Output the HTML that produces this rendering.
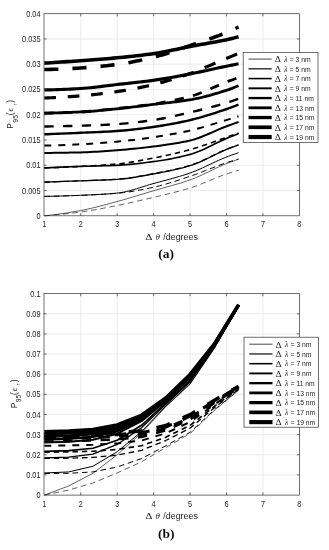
<!DOCTYPE html>
<html><head><meta charset="utf-8"><title>Figure</title>
<style>html,body{margin:0;padding:0;background:#fff}svg{display:block}</style></head>
<body>
<svg width="329" height="550" viewBox="0 0 329 550">
<rect width="329" height="550" fill="#fff"/>
<defs><filter id="soft" x="0" y="0" width="100%" height="100%" filterUnits="userSpaceOnUse"><feGaussianBlur stdDeviation="0.32"/></filter></defs>
<g filter="url(#soft)">
<line x1="80.74" y1="13.7" x2="80.74" y2="215.8" stroke="#e4e4e4" stroke-width="0.7"/>
<line x1="117.19" y1="13.7" x2="117.19" y2="215.8" stroke="#e4e4e4" stroke-width="0.7"/>
<line x1="153.63" y1="13.7" x2="153.63" y2="215.8" stroke="#e4e4e4" stroke-width="0.7"/>
<line x1="190.07" y1="13.7" x2="190.07" y2="215.8" stroke="#e4e4e4" stroke-width="0.7"/>
<line x1="226.51" y1="13.7" x2="226.51" y2="215.8" stroke="#e4e4e4" stroke-width="0.7"/>
<line x1="262.96" y1="13.7" x2="262.96" y2="215.8" stroke="#e4e4e4" stroke-width="0.7"/>
<line x1="44.0" y1="190.54" x2="299.4" y2="190.54" stroke="#e4e4e4" stroke-width="0.7"/>
<line x1="44.0" y1="165.28" x2="299.4" y2="165.28" stroke="#e4e4e4" stroke-width="0.7"/>
<line x1="44.0" y1="140.01" x2="299.4" y2="140.01" stroke="#e4e4e4" stroke-width="0.7"/>
<line x1="44.0" y1="114.75" x2="299.4" y2="114.75" stroke="#e4e4e4" stroke-width="0.7"/>
<line x1="44.0" y1="89.49" x2="299.4" y2="89.49" stroke="#e4e4e4" stroke-width="0.7"/>
<line x1="44.0" y1="64.22" x2="299.4" y2="64.22" stroke="#e4e4e4" stroke-width="0.7"/>
<line x1="44.0" y1="38.96" x2="299.4" y2="38.96" stroke="#e4e4e4" stroke-width="0.7"/>
<g fill="none" stroke="#000" stroke-linejoin="round">
<path d="M44.30,215.80 L47.59,215.47 L50.88,215.10 L54.18,214.70 L57.47,214.27 L60.76,213.81 L64.05,213.32 L67.35,212.81 L70.64,212.27 L73.93,211.71 L77.22,211.14 L80.51,210.54 L83.81,209.91 L87.10,209.23 L90.39,208.49 L93.68,207.71 L96.98,206.90 L100.27,206.06 L103.56,205.19 L106.85,204.31 L110.14,203.41 L113.44,202.52 L116.73,201.62 L120.02,200.72 L123.31,199.80 L126.61,198.85 L129.90,197.88 L133.19,196.89 L136.48,195.90 L139.77,194.89 L143.07,193.89 L146.36,192.89 L149.65,191.89 L152.94,190.90 L156.24,189.94 L159.53,189.00 L162.82,188.08 L166.11,187.17 L169.40,186.26 L172.70,185.34 L175.99,184.39 L179.28,183.42 L182.57,182.41 L185.87,181.34 L189.16,180.22 L192.45,179.02 L195.74,177.69 L199.03,176.26 L202.33,174.75 L205.62,173.19 L208.91,171.60 L212.20,170.01 L215.49,168.43 L218.79,166.90 L222.08,165.43 L225.37,164.05 L228.66,162.78 L231.96,161.57 L235.25,160.42 L238.54,159.30" stroke-width="0.62"/>
<path d="M44.30,196.40 L47.59,196.34 L50.88,196.28 L54.18,196.20 L57.47,196.11 L60.76,196.02 L64.05,195.92 L67.35,195.81 L70.64,195.69 L73.93,195.57 L77.22,195.44 L80.51,195.31 L83.81,195.18 L87.10,195.04 L90.39,194.89 L93.68,194.74 L96.98,194.57 L100.27,194.39 L103.56,194.19 L106.85,193.97 L110.14,193.72 L113.44,193.45 L116.73,193.14 L120.02,192.75 L123.31,192.20 L126.61,191.50 L129.90,190.68 L133.19,189.76 L136.48,188.78 L139.77,187.75 L143.07,186.70 L146.36,185.66 L149.65,184.65 L152.94,183.69 L156.24,182.79 L159.53,181.90 L162.82,181.02 L166.11,180.14 L169.40,179.25 L172.70,178.35 L175.99,177.42 L179.28,176.46 L182.57,175.46 L185.87,174.41 L189.16,173.32 L192.45,172.14 L195.74,170.84 L199.03,169.44 L202.33,167.97 L205.62,166.44 L208.91,164.89 L212.20,163.32 L215.49,161.77 L218.79,160.26 L222.08,158.81 L225.37,157.45 L228.66,156.18 L231.96,154.98 L235.25,153.82 L238.54,152.70" stroke-width="1.00"/>
<path d="M44.30,182.10 L47.59,181.99 L50.88,181.87 L54.18,181.76 L57.47,181.64 L60.76,181.52 L64.05,181.41 L67.35,181.29 L70.64,181.17 L73.93,181.05 L77.22,180.93 L80.51,180.81 L83.81,180.69 L87.10,180.58 L90.39,180.48 L93.68,180.38 L96.98,180.28 L100.27,180.17 L103.56,180.05 L106.85,179.92 L110.14,179.78 L113.44,179.61 L116.73,179.43 L120.02,179.19 L123.31,178.88 L126.61,178.50 L129.90,178.05 L133.19,177.55 L136.48,177.01 L139.77,176.44 L143.07,175.85 L146.36,175.24 L149.65,174.63 L152.94,174.02 L156.24,173.43 L159.53,172.82 L162.82,172.19 L166.11,171.54 L169.40,170.86 L172.70,170.15 L175.99,169.41 L179.28,168.62 L182.57,167.79 L185.87,166.91 L189.16,165.97 L192.45,164.94 L195.74,163.74 L199.03,162.39 L202.33,160.92 L205.62,159.37 L208.91,157.76 L212.20,156.13 L215.49,154.50 L218.79,152.91 L222.08,151.39 L225.37,149.97 L228.66,148.65 L231.96,147.40 L235.25,146.18 L238.54,145.00" stroke-width="1.32"/>
<path d="M44.30,167.90 L47.59,167.75 L50.88,167.60 L54.18,167.45 L57.47,167.31 L60.76,167.17 L64.05,167.03 L67.35,166.90 L70.64,166.77 L73.93,166.65 L77.22,166.53 L80.51,166.41 L83.81,166.30 L87.10,166.20 L90.39,166.12 L93.68,166.03 L96.98,165.95 L100.27,165.87 L103.56,165.78 L106.85,165.69 L110.14,165.58 L113.44,165.46 L116.73,165.32 L120.02,165.15 L123.31,164.94 L126.61,164.69 L129.90,164.40 L133.19,164.08 L136.48,163.73 L139.77,163.36 L143.07,162.97 L146.36,162.55 L149.65,162.13 L152.94,161.69 L156.24,161.24 L159.53,160.76 L162.82,160.24 L166.11,159.69 L169.40,159.09 L172.70,158.46 L175.99,157.79 L179.28,157.07 L182.57,156.31 L185.87,155.50 L189.16,154.65 L192.45,153.70 L195.74,152.58 L199.03,151.30 L202.33,149.89 L205.62,148.39 L208.91,146.82 L212.20,145.21 L215.49,143.60 L218.79,142.00 L222.08,140.45 L225.37,138.99 L228.66,137.61 L231.96,136.25 L235.25,134.92 L238.54,133.60" stroke-width="1.65"/>
<path d="M44.30,152.90 L47.59,152.89 L50.88,152.88 L54.18,152.85 L57.47,152.82 L60.76,152.78 L64.05,152.73 L67.35,152.67 L70.64,152.61 L73.93,152.55 L77.22,152.48 L80.51,152.41 L83.81,152.32 L87.10,152.20 L90.39,152.04 L93.68,151.87 L96.98,151.67 L100.27,151.46 L103.56,151.23 L106.85,150.99 L110.14,150.74 L113.44,150.49 L116.73,150.23 L120.02,149.98 L123.31,149.71 L126.61,149.42 L129.90,149.12 L133.19,148.80 L136.48,148.47 L139.77,148.12 L143.07,147.76 L146.36,147.38 L149.65,146.99 L152.94,146.59 L156.24,146.17 L159.53,145.74 L162.82,145.30 L166.11,144.84 L169.40,144.36 L172.70,143.85 L175.99,143.30 L179.28,142.72 L182.57,142.10 L185.87,141.43 L189.16,140.71 L192.45,139.90 L195.74,138.92 L199.03,137.78 L202.33,136.53 L205.62,135.18 L208.91,133.76 L212.20,132.31 L215.49,130.86 L218.79,129.42 L222.08,128.04 L225.37,126.73 L228.66,125.51 L231.96,124.32 L235.25,123.16 L238.54,122.00" stroke-width="2.00"/>
<path d="M44.30,134.30 L47.59,134.18 L50.88,134.05 L54.18,133.92 L57.47,133.79 L60.76,133.66 L64.05,133.52 L67.35,133.38 L70.64,133.24 L73.93,133.10 L77.22,132.96 L80.51,132.81 L83.81,132.66 L87.10,132.52 L90.39,132.38 L93.68,132.24 L96.98,132.10 L100.27,131.95 L103.56,131.79 L106.85,131.62 L110.14,131.44 L113.44,131.24 L116.73,131.03 L120.02,130.79 L123.31,130.52 L126.61,130.22 L129.90,129.89 L133.19,129.53 L136.48,129.15 L139.77,128.75 L143.07,128.33 L146.36,127.90 L149.65,127.45 L152.94,127.00 L156.24,126.53 L159.53,126.03 L162.82,125.50 L166.11,124.94 L169.40,124.36 L172.70,123.75 L175.99,123.12 L179.28,122.45 L182.57,121.76 L185.87,121.05 L189.16,120.31 L192.45,119.54 L195.74,118.71 L199.03,117.82 L202.33,116.89 L205.62,115.92 L208.91,114.91 L212.20,113.87 L215.49,112.80 L218.79,111.71 L222.08,110.60 L225.37,109.49 L228.66,108.35 L231.96,107.14 L235.25,105.89 L238.54,104.60" stroke-width="2.40"/>
<path d="M44.30,113.10 L47.59,113.07 L50.88,113.01 L54.18,112.94 L57.47,112.85 L60.76,112.75 L64.05,112.63 L67.35,112.50 L70.64,112.36 L73.93,112.22 L77.22,112.07 L80.51,111.91 L83.81,111.74 L87.10,111.54 L90.39,111.30 L93.68,111.05 L96.98,110.77 L100.27,110.47 L103.56,110.16 L106.85,109.84 L110.14,109.51 L113.44,109.18 L116.73,108.85 L120.02,108.51 L123.31,108.15 L126.61,107.78 L129.90,107.39 L133.19,106.98 L136.48,106.57 L139.77,106.16 L143.07,105.74 L146.36,105.31 L149.65,104.90 L152.94,104.48 L156.24,104.08 L159.53,103.70 L162.82,103.33 L166.11,102.96 L169.40,102.59 L172.70,102.21 L175.99,101.82 L179.28,101.40 L182.57,100.96 L185.87,100.48 L189.16,99.95 L192.45,99.38 L195.74,98.73 L199.03,98.02 L202.33,97.26 L205.62,96.44 L208.91,95.57 L212.20,94.65 L215.49,93.70 L218.79,92.72 L222.08,91.70 L225.37,90.66 L228.66,89.58 L231.96,88.36 L235.25,87.05 L238.54,85.70" stroke-width="2.80"/>
<path d="M44.30,89.90 L47.59,89.88 L50.88,89.82 L54.18,89.74 L57.47,89.64 L60.76,89.52 L64.05,89.38 L67.35,89.22 L70.64,89.06 L73.93,88.88 L77.22,88.70 L80.51,88.51 L83.81,88.30 L87.10,88.03 L90.39,87.72 L93.68,87.37 L96.98,86.99 L100.27,86.59 L103.56,86.18 L106.85,85.76 L110.14,85.34 L113.44,84.94 L116.73,84.55 L120.02,84.18 L123.31,83.83 L126.61,83.47 L129.90,83.12 L133.19,82.76 L136.48,82.40 L139.77,82.03 L143.07,81.65 L146.36,81.25 L149.65,80.84 L152.94,80.39 L156.24,79.93 L159.53,79.43 L162.82,78.90 L166.11,78.35 L169.40,77.78 L172.70,77.19 L175.99,76.58 L179.28,75.96 L182.57,75.34 L185.87,74.71 L189.16,74.08 L192.45,73.44 L195.74,72.78 L199.03,72.09 L202.33,71.40 L205.62,70.69 L208.91,69.97 L212.20,69.25 L215.49,68.54 L218.79,67.82 L222.08,67.12 L225.37,66.43 L228.66,65.76 L231.96,65.10 L235.25,64.45 L238.54,63.80" stroke-width="3.15"/>
<path d="M44.30,63.10 L47.59,62.90 L50.88,62.70 L54.18,62.50 L57.47,62.29 L60.76,62.08 L64.05,61.86 L67.35,61.64 L70.64,61.41 L73.93,61.18 L77.22,60.95 L80.51,60.72 L83.81,60.48 L87.10,60.24 L90.39,60.00 L93.68,59.75 L96.98,59.50 L100.27,59.25 L103.56,58.99 L106.85,58.72 L110.14,58.44 L113.44,58.14 L116.73,57.84 L120.02,57.53 L123.31,57.21 L126.61,56.88 L129.90,56.53 L133.19,56.18 L136.48,55.81 L139.77,55.42 L143.07,55.02 L146.36,54.60 L149.65,54.16 L152.94,53.70 L156.24,53.20 L159.53,52.65 L162.82,52.06 L166.11,51.43 L169.40,50.76 L172.70,50.08 L175.99,49.39 L179.28,48.69 L182.57,48.00 L185.87,47.33 L189.16,46.68 L192.45,46.05 L195.74,45.45 L199.03,44.85 L202.33,44.27 L205.62,43.69 L208.91,43.10 L212.20,42.51 L215.49,41.90 L218.79,41.27 L222.08,40.62 L225.37,39.94 L228.66,39.22 L231.96,38.45 L235.25,37.63 L238.54,36.80" stroke-width="3.55"/>
<path d="M44.30,215.80 L47.59,215.57 L50.88,215.30 L54.18,215.02 L57.47,214.71 L60.76,214.38 L64.05,214.03 L67.35,213.66 L70.64,213.27 L73.93,212.87 L77.22,212.46 L80.51,212.03 L83.81,211.58 L87.10,211.09 L90.39,210.56 L93.68,210.00 L96.98,209.42 L100.27,208.81 L103.56,208.19 L106.85,207.55 L110.14,206.90 L113.44,206.25 L116.73,205.59 L120.02,204.93 L123.31,204.24 L126.61,203.54 L129.90,202.82 L133.19,202.09 L136.48,201.34 L139.77,200.58 L143.07,199.81 L146.36,199.03 L149.65,198.25 L152.94,197.46 L156.24,196.68 L159.53,195.90 L162.82,195.13 L166.11,194.35 L169.40,193.55 L172.70,192.75 L175.99,191.92 L179.28,191.07 L182.57,190.18 L185.87,189.25 L189.16,188.28 L192.45,187.24 L195.74,186.10 L199.03,184.87 L202.33,183.58 L205.62,182.24 L208.91,180.87 L212.20,179.51 L215.49,178.15 L218.79,176.83 L222.08,175.57 L225.37,174.39 L228.66,173.29 L231.96,172.25 L235.25,171.26 L238.54,170.30" stroke-width="0.62" stroke-dasharray="5.7,3.7"/>
<path d="M44.30,196.40 L47.59,196.34 L50.88,196.26 L54.18,196.18 L57.47,196.10 L60.76,196.00 L64.05,195.90 L67.35,195.79 L70.64,195.68 L73.93,195.56 L77.22,195.44 L80.51,195.31 L83.81,195.18 L87.10,195.05 L90.39,194.91 L93.68,194.76 L96.98,194.60 L100.27,194.43 L103.56,194.25 L106.85,194.05 L110.14,193.83 L113.44,193.60 L116.73,193.34 L120.02,193.04 L123.31,192.67 L126.61,192.25 L129.90,191.77 L133.19,191.23 L136.48,190.66 L139.77,190.05 L143.07,189.40 L146.36,188.74 L149.65,188.05 L152.94,187.35 L156.24,186.62 L159.53,185.81 L162.82,184.94 L166.11,184.01 L169.40,183.04 L172.70,182.02 L175.99,180.97 L179.28,179.89 L182.57,178.80 L185.87,177.70 L189.16,176.60 L192.45,175.49 L195.74,174.32 L199.03,173.10 L202.33,171.84 L205.62,170.55 L208.91,169.26 L212.20,167.96 L215.49,166.69 L218.79,165.44 L222.08,164.23 L225.37,163.08 L228.66,162.00 L231.96,160.96 L235.25,159.97 L238.54,159.00" stroke-width="1.00" stroke-dasharray="5.7,3.7"/>
<path d="M44.30,182.10 L47.59,181.99 L50.88,181.89 L54.18,181.78 L57.47,181.66 L60.76,181.55 L64.05,181.43 L67.35,181.31 L70.64,181.19 L73.93,181.06 L77.22,180.94 L80.51,180.81 L83.81,180.68 L87.10,180.56 L90.39,180.45 L93.68,180.33 L96.98,180.21 L100.27,180.08 L103.56,179.94 L106.85,179.79 L110.14,179.63 L113.44,179.44 L116.73,179.23 L120.02,178.98 L123.31,178.65 L126.61,178.25 L129.90,177.79 L133.19,177.28 L136.48,176.74 L139.77,176.16 L143.07,175.56 L146.36,174.95 L149.65,174.34 L152.94,173.73 L156.24,173.12 L159.53,172.51 L162.82,171.88 L166.11,171.23 L169.40,170.55 L172.70,169.84 L175.99,169.10 L179.28,168.31 L182.57,167.49 L185.87,166.61 L189.16,165.67 L192.45,164.64 L195.74,163.44 L199.03,162.10 L202.33,160.65 L205.62,159.11 L208.91,157.51 L212.20,155.89 L215.49,154.28 L218.79,152.70 L222.08,151.18 L225.37,149.76 L228.66,148.45 L231.96,147.20 L235.25,145.99 L238.54,144.80" stroke-width="1.32" stroke-dasharray="5.7,3.7"/>
<path d="M44.30,167.90 L47.59,167.80 L50.88,167.69 L54.18,167.58 L57.47,167.45 L60.76,167.32 L64.05,167.18 L67.35,167.04 L70.64,166.89 L73.93,166.74 L77.22,166.58 L80.51,166.41 L83.81,166.24 L87.10,166.07 L90.39,165.90 L93.68,165.71 L96.98,165.52 L100.27,165.32 L103.56,165.10 L106.85,164.86 L110.14,164.61 L113.44,164.34 L116.73,164.04 L120.02,163.71 L123.31,163.31 L126.61,162.86 L129.90,162.37 L133.19,161.83 L136.48,161.26 L139.77,160.66 L143.07,160.04 L146.36,159.41 L149.65,158.77 L152.94,158.13 L156.24,157.49 L159.53,156.83 L162.82,156.15 L166.11,155.45 L169.40,154.73 L172.70,153.98 L175.99,153.20 L179.28,152.41 L182.57,151.58 L185.87,150.73 L189.16,149.85 L192.45,148.93 L195.74,147.95 L199.03,146.92 L202.33,145.84 L205.62,144.72 L208.91,143.57 L212.20,142.41 L215.49,141.23 L218.79,140.04 L222.08,138.87 L225.37,137.70 L228.66,136.55 L231.96,135.38 L235.25,134.19 L238.54,133.00" stroke-width="1.65" stroke-dasharray="5.4,4.0"/>
<path d="M44.30,145.60 L47.59,145.54 L50.88,145.46 L54.18,145.37 L57.47,145.27 L60.76,145.16 L64.05,145.04 L67.35,144.90 L70.64,144.77 L73.93,144.62 L77.22,144.47 L80.51,144.31 L83.81,144.14 L87.10,143.96 L90.39,143.75 L93.68,143.53 L96.98,143.30 L100.27,143.05 L103.56,142.79 L106.85,142.51 L110.14,142.23 L113.44,141.94 L116.73,141.64 L120.02,141.33 L123.31,141.00 L126.61,140.66 L129.90,140.29 L133.19,139.91 L136.48,139.51 L139.77,139.10 L143.07,138.67 L146.36,138.23 L149.65,137.77 L152.94,137.30 L156.24,136.81 L159.53,136.31 L162.82,135.78 L166.11,135.22 L169.40,134.65 L172.70,134.05 L175.99,133.43 L179.28,132.79 L182.57,132.12 L185.87,131.42 L189.16,130.70 L192.45,129.95 L195.74,129.13 L199.03,128.26 L202.33,127.34 L205.62,126.39 L208.91,125.40 L212.20,124.40 L215.49,123.38 L218.79,122.36 L222.08,121.35 L225.37,120.34 L228.66,119.35 L231.96,118.35 L235.25,117.33 L238.54,116.30" stroke-width="2.00" stroke-dasharray="7,7"/>
<path d="M44.30,126.50 L47.59,126.46 L50.88,126.41 L54.18,126.36 L57.47,126.29 L60.76,126.22 L64.05,126.15 L67.35,126.07 L70.64,125.98 L73.93,125.89 L77.22,125.80 L80.51,125.71 L83.81,125.61 L87.10,125.50 L90.39,125.39 L93.68,125.27 L96.98,125.14 L100.27,125.00 L103.56,124.85 L106.85,124.69 L110.14,124.51 L113.44,124.33 L116.73,124.13 L120.02,123.91 L123.31,123.65 L126.61,123.36 L129.90,123.03 L133.19,122.68 L136.48,122.30 L139.77,121.90 L143.07,121.47 L146.36,121.03 L149.65,120.57 L152.94,120.10 L156.24,119.60 L159.53,119.05 L162.82,118.45 L166.11,117.80 L169.40,117.12 L172.70,116.41 L175.99,115.67 L179.28,114.92 L182.57,114.15 L185.87,113.38 L189.16,112.61 L192.45,111.84 L195.74,111.06 L199.03,110.26 L202.33,109.44 L205.62,108.60 L208.91,107.74 L212.20,106.87 L215.49,105.97 L218.79,105.05 L222.08,104.11 L225.37,103.14 L228.66,102.14 L231.96,101.07 L235.25,99.95 L238.54,98.80" stroke-width="2.40" stroke-dasharray="9.35,9.4"/>
<path d="M44.30,113.10 L47.59,113.08 L50.88,113.03 L54.18,112.96 L57.47,112.88 L60.76,112.77 L64.05,112.65 L67.35,112.52 L70.64,112.38 L73.93,112.23 L77.22,112.07 L80.51,111.91 L83.81,111.73 L87.10,111.51 L90.39,111.26 L93.68,110.97 L96.98,110.66 L100.27,110.33 L103.56,109.98 L106.85,109.63 L110.14,109.27 L113.44,108.90 L116.73,108.55 L120.02,108.20 L123.31,107.84 L126.61,107.48 L129.90,107.11 L133.19,106.73 L136.48,106.34 L139.77,105.93 L143.07,105.51 L146.36,105.06 L149.65,104.60 L152.94,104.11 L156.24,103.59 L159.53,103.05 L162.82,102.49 L166.11,101.89 L169.40,101.27 L172.70,100.61 L175.99,99.92 L179.28,99.19 L182.57,98.42 L185.87,97.60 L189.16,96.75 L192.45,95.81 L195.74,94.75 L199.03,93.56 L202.33,92.27 L205.62,90.91 L208.91,89.49 L212.20,88.05 L215.49,86.60 L218.79,85.17 L222.08,83.78 L225.37,82.44 L228.66,81.18 L231.96,79.94 L235.25,78.72 L238.54,77.50" stroke-width="2.80" stroke-dasharray="9.35,9.4"/>
<path d="M44.30,98.00 L47.59,97.88 L50.88,97.74 L54.18,97.58 L57.47,97.41 L60.76,97.22 L64.05,97.01 L67.35,96.80 L70.64,96.57 L73.93,96.32 L77.22,96.08 L80.51,95.82 L83.81,95.55 L87.10,95.25 L90.39,94.93 L93.68,94.59 L96.98,94.23 L100.27,93.84 L103.56,93.44 L106.85,93.02 L110.14,92.59 L113.44,92.13 L116.73,91.67 L120.02,91.18 L123.31,90.65 L126.61,90.10 L129.90,89.51 L133.19,88.90 L136.48,88.26 L139.77,87.59 L143.07,86.89 L146.36,86.17 L149.65,85.43 L152.94,84.66 L156.24,83.87 L159.53,83.03 L162.82,82.14 L166.11,81.22 L169.40,80.26 L172.70,79.26 L175.99,78.22 L179.28,77.16 L182.57,76.07 L185.87,74.96 L189.16,73.82 L192.45,72.65 L195.74,71.40 L199.03,70.08 L202.33,68.72 L205.62,67.32 L208.91,65.89 L212.20,64.44 L215.49,62.99 L218.79,61.56 L222.08,60.14 L225.37,58.77 L228.66,57.43 L231.96,56.11 L235.25,54.80 L238.54,53.50" stroke-width="3.15" stroke-dasharray="11.7,11.75"/>
<path d="M44.30,69.50 L47.59,69.45 L50.88,69.37 L54.18,69.28 L57.47,69.16 L60.76,69.03 L64.05,68.89 L67.35,68.73 L70.64,68.56 L73.93,68.39 L77.22,68.20 L80.51,68.01 L83.81,67.81 L87.10,67.58 L90.39,67.32 L93.68,67.04 L96.98,66.73 L100.27,66.40 L103.56,66.05 L106.85,65.68 L110.14,65.29 L113.44,64.88 L116.73,64.46 L120.02,64.01 L123.31,63.51 L126.61,62.96 L129.90,62.38 L133.19,61.75 L136.48,61.09 L139.77,60.40 L143.07,59.68 L146.36,58.93 L149.65,58.16 L152.94,57.37 L156.24,56.54 L159.53,55.65 L162.82,54.69 L166.11,53.68 L169.40,52.63 L172.70,51.55 L175.99,50.43 L179.28,49.31 L182.57,48.17 L185.87,47.03 L189.16,45.91 L192.45,44.80 L195.74,43.69 L199.03,42.57 L202.33,41.45 L205.62,40.32 L208.91,39.17 L212.20,37.99 L215.49,36.79 L218.79,35.55 L222.08,34.28 L225.37,32.97 L228.66,31.59 L231.96,30.12 L235.25,28.58 L238.54,27.00" stroke-width="3.55" stroke-dasharray="14.1,14.05"/>
</g>
<rect x="44.0" y="13.7" width="255.40" height="202.10" fill="none" stroke="#333" stroke-width="0.7"/>
<text transform="translate(44.30,227.30) scale(0.88,1)" font-family="Liberation Sans, Arial, sans-serif" font-size="8.3" fill="#1c1c1c" text-anchor="middle">1</text>
<line x1="80.74" y1="215.8" x2="80.74" y2="213.20000000000002" stroke="#333" stroke-width="0.7"/>
<line x1="80.74" y1="13.7" x2="80.74" y2="16.3" stroke="#333" stroke-width="0.7"/>
<text transform="translate(80.74,227.30) scale(0.88,1)" font-family="Liberation Sans, Arial, sans-serif" font-size="8.3" fill="#1c1c1c" text-anchor="middle">2</text>
<line x1="117.19" y1="215.8" x2="117.19" y2="213.20000000000002" stroke="#333" stroke-width="0.7"/>
<line x1="117.19" y1="13.7" x2="117.19" y2="16.3" stroke="#333" stroke-width="0.7"/>
<text transform="translate(117.19,227.30) scale(0.88,1)" font-family="Liberation Sans, Arial, sans-serif" font-size="8.3" fill="#1c1c1c" text-anchor="middle">3</text>
<line x1="153.63" y1="215.8" x2="153.63" y2="213.20000000000002" stroke="#333" stroke-width="0.7"/>
<line x1="153.63" y1="13.7" x2="153.63" y2="16.3" stroke="#333" stroke-width="0.7"/>
<text transform="translate(153.63,227.30) scale(0.88,1)" font-family="Liberation Sans, Arial, sans-serif" font-size="8.3" fill="#1c1c1c" text-anchor="middle">4</text>
<line x1="190.07" y1="215.8" x2="190.07" y2="213.20000000000002" stroke="#333" stroke-width="0.7"/>
<line x1="190.07" y1="13.7" x2="190.07" y2="16.3" stroke="#333" stroke-width="0.7"/>
<text transform="translate(190.07,227.30) scale(0.88,1)" font-family="Liberation Sans, Arial, sans-serif" font-size="8.3" fill="#1c1c1c" text-anchor="middle">5</text>
<line x1="226.51" y1="215.8" x2="226.51" y2="213.20000000000002" stroke="#333" stroke-width="0.7"/>
<line x1="226.51" y1="13.7" x2="226.51" y2="16.3" stroke="#333" stroke-width="0.7"/>
<text transform="translate(226.51,227.30) scale(0.88,1)" font-family="Liberation Sans, Arial, sans-serif" font-size="8.3" fill="#1c1c1c" text-anchor="middle">6</text>
<line x1="262.96" y1="215.8" x2="262.96" y2="213.20000000000002" stroke="#333" stroke-width="0.7"/>
<line x1="262.96" y1="13.7" x2="262.96" y2="16.3" stroke="#333" stroke-width="0.7"/>
<text transform="translate(262.96,227.30) scale(0.88,1)" font-family="Liberation Sans, Arial, sans-serif" font-size="8.3" fill="#1c1c1c" text-anchor="middle">7</text>
<text transform="translate(299.40,227.30) scale(0.88,1)" font-family="Liberation Sans, Arial, sans-serif" font-size="8.3" fill="#1c1c1c" text-anchor="middle">8</text>
<text transform="translate(40.50,218.80) scale(0.89,1)" font-family="Liberation Sans, Arial, sans-serif" font-size="8.3" fill="#1c1c1c" text-anchor="end">0</text>
<line x1="44.0" y1="190.54" x2="46.6" y2="190.54" stroke="#333" stroke-width="0.7"/>
<line x1="299.4" y1="190.54" x2="296.79999999999995" y2="190.54" stroke="#333" stroke-width="0.7"/>
<text transform="translate(40.50,193.54) scale(0.89,1)" font-family="Liberation Sans, Arial, sans-serif" font-size="8.3" fill="#1c1c1c" text-anchor="end">0.005</text>
<line x1="44.0" y1="165.28" x2="46.6" y2="165.28" stroke="#333" stroke-width="0.7"/>
<line x1="299.4" y1="165.28" x2="296.79999999999995" y2="165.28" stroke="#333" stroke-width="0.7"/>
<text transform="translate(40.50,168.28) scale(0.89,1)" font-family="Liberation Sans, Arial, sans-serif" font-size="8.3" fill="#1c1c1c" text-anchor="end">0.01</text>
<line x1="44.0" y1="140.01" x2="46.6" y2="140.01" stroke="#333" stroke-width="0.7"/>
<line x1="299.4" y1="140.01" x2="296.79999999999995" y2="140.01" stroke="#333" stroke-width="0.7"/>
<text transform="translate(40.50,143.01) scale(0.89,1)" font-family="Liberation Sans, Arial, sans-serif" font-size="8.3" fill="#1c1c1c" text-anchor="end">0.015</text>
<line x1="44.0" y1="114.75" x2="46.6" y2="114.75" stroke="#333" stroke-width="0.7"/>
<line x1="299.4" y1="114.75" x2="296.79999999999995" y2="114.75" stroke="#333" stroke-width="0.7"/>
<text transform="translate(40.50,117.75) scale(0.89,1)" font-family="Liberation Sans, Arial, sans-serif" font-size="8.3" fill="#1c1c1c" text-anchor="end">0.02</text>
<line x1="44.0" y1="89.49" x2="46.6" y2="89.49" stroke="#333" stroke-width="0.7"/>
<line x1="299.4" y1="89.49" x2="296.79999999999995" y2="89.49" stroke="#333" stroke-width="0.7"/>
<text transform="translate(40.50,92.49) scale(0.89,1)" font-family="Liberation Sans, Arial, sans-serif" font-size="8.3" fill="#1c1c1c" text-anchor="end">0.025</text>
<line x1="44.0" y1="64.22" x2="46.6" y2="64.22" stroke="#333" stroke-width="0.7"/>
<line x1="299.4" y1="64.22" x2="296.79999999999995" y2="64.22" stroke="#333" stroke-width="0.7"/>
<text transform="translate(40.50,67.22) scale(0.89,1)" font-family="Liberation Sans, Arial, sans-serif" font-size="8.3" fill="#1c1c1c" text-anchor="end">0.03</text>
<line x1="44.0" y1="38.96" x2="46.6" y2="38.96" stroke="#333" stroke-width="0.7"/>
<line x1="299.4" y1="38.96" x2="296.79999999999995" y2="38.96" stroke="#333" stroke-width="0.7"/>
<text transform="translate(40.50,41.96) scale(0.89,1)" font-family="Liberation Sans, Arial, sans-serif" font-size="8.3" fill="#1c1c1c" text-anchor="end">0.035</text>
<text transform="translate(40.50,16.70) scale(0.89,1)" font-family="Liberation Sans, Arial, sans-serif" font-size="8.3" fill="#1c1c1c" text-anchor="end">0.04</text>
<text transform="translate(145.2,239.50) scale(1.28,1)" font-family="Liberation Serif, serif" font-size="8.8" fill="#1c1c1c">Δ</text>
<text y="239.50" font-family="Liberation Sans, Arial, sans-serif" font-size="8.9" fill="#1c1c1c"><tspan x="155.6" font-family="Liberation Serif, serif" font-style="italic" font-size="9">θ</tspan><tspan x="163.3">/degrees</tspan></text>
<text transform="translate(13.1,128.65) rotate(-90)" font-family="Liberation Sans, Arial, sans-serif" font-size="8.4" fill="#1c1c1c">P<tspan dy="4.4" dx="0.4" font-size="6.8" letter-spacing="0.1">95</tspan><tspan dy="-4.4" dx="-0.4">(</tspan><tspan dx="0.9" font-family="Liberation Serif, serif" font-style="italic" font-size="8.5">ϵ</tspan><tspan dy="3.4" dx="2.6" font-size="5.6">r</tspan><tspan dy="-3.4" dx="1.0">)</tspan></text>
<rect x="243.2" y="52.6" width="74.8" height="89.8" fill="#fff" stroke="#333" stroke-width="0.7"/>
<line x1="248.50" y1="59.10" x2="271.70" y2="59.10" stroke="#000" stroke-width="0.73"/>
<text transform="translate(274.70,62.40) scale(1.3,1)" font-family="Liberation Serif, serif" font-size="7.4" fill="#1c1c1c">Δ</text>
<text y="61.80" font-family="Liberation Sans, Arial, sans-serif" font-size="6.75" fill="#1c1c1c"><tspan x="284.20" font-family="Liberation Serif, serif" font-style="italic" font-size="7.4">λ</tspan><tspan x="289.80">= 3 nm</tspan></text>
<line x1="248.50" y1="68.84" x2="271.70" y2="68.84" stroke="#000" stroke-width="1.17"/>
<text transform="translate(274.70,72.14) scale(1.3,1)" font-family="Liberation Serif, serif" font-size="7.4" fill="#1c1c1c">Δ</text>
<text y="71.54" font-family="Liberation Sans, Arial, sans-serif" font-size="6.75" fill="#1c1c1c"><tspan x="284.20" font-family="Liberation Serif, serif" font-style="italic" font-size="7.4">λ</tspan><tspan x="289.80">= 5 nm</tspan></text>
<line x1="248.50" y1="78.58" x2="271.70" y2="78.58" stroke="#000" stroke-width="1.54"/>
<text transform="translate(274.70,81.88) scale(1.3,1)" font-family="Liberation Serif, serif" font-size="7.4" fill="#1c1c1c">Δ</text>
<text y="81.28" font-family="Liberation Sans, Arial, sans-serif" font-size="6.75" fill="#1c1c1c"><tspan x="284.20" font-family="Liberation Serif, serif" font-style="italic" font-size="7.4">λ</tspan><tspan x="289.80">= 7 nm</tspan></text>
<line x1="248.50" y1="88.32" x2="271.70" y2="88.32" stroke="#000" stroke-width="1.93"/>
<text transform="translate(274.70,91.62) scale(1.3,1)" font-family="Liberation Serif, serif" font-size="7.4" fill="#1c1c1c">Δ</text>
<text y="91.02" font-family="Liberation Sans, Arial, sans-serif" font-size="6.75" fill="#1c1c1c"><tspan x="284.20" font-family="Liberation Serif, serif" font-style="italic" font-size="7.4">λ</tspan><tspan x="289.80">= 9 nm</tspan></text>
<line x1="248.50" y1="98.06" x2="271.70" y2="98.06" stroke="#000" stroke-width="2.34"/>
<text transform="translate(274.70,101.36) scale(1.3,1)" font-family="Liberation Serif, serif" font-size="7.4" fill="#1c1c1c">Δ</text>
<text y="100.76" font-family="Liberation Sans, Arial, sans-serif" font-size="6.75" fill="#1c1c1c"><tspan x="284.20" font-family="Liberation Serif, serif" font-style="italic" font-size="7.4">λ</tspan><tspan x="289.80">= 11 nm</tspan></text>
<line x1="248.50" y1="107.80" x2="271.70" y2="107.80" stroke="#000" stroke-width="2.81"/>
<text transform="translate(274.70,111.10) scale(1.3,1)" font-family="Liberation Serif, serif" font-size="7.4" fill="#1c1c1c">Δ</text>
<text y="110.50" font-family="Liberation Sans, Arial, sans-serif" font-size="6.75" fill="#1c1c1c"><tspan x="284.20" font-family="Liberation Serif, serif" font-style="italic" font-size="7.4">λ</tspan><tspan x="289.80">= 13 nm</tspan></text>
<line x1="248.50" y1="117.54" x2="271.70" y2="117.54" stroke="#000" stroke-width="3.28"/>
<text transform="translate(274.70,120.84) scale(1.3,1)" font-family="Liberation Serif, serif" font-size="7.4" fill="#1c1c1c">Δ</text>
<text y="120.24" font-family="Liberation Sans, Arial, sans-serif" font-size="6.75" fill="#1c1c1c"><tspan x="284.20" font-family="Liberation Serif, serif" font-style="italic" font-size="7.4">λ</tspan><tspan x="289.80">= 15 nm</tspan></text>
<line x1="248.50" y1="127.28" x2="271.70" y2="127.28" stroke="#000" stroke-width="3.69"/>
<text transform="translate(274.70,130.58) scale(1.3,1)" font-family="Liberation Serif, serif" font-size="7.4" fill="#1c1c1c">Δ</text>
<text y="129.98" font-family="Liberation Sans, Arial, sans-serif" font-size="6.75" fill="#1c1c1c"><tspan x="284.20" font-family="Liberation Serif, serif" font-style="italic" font-size="7.4">λ</tspan><tspan x="289.80">= 17 nm</tspan></text>
<line x1="248.50" y1="137.02" x2="271.70" y2="137.02" stroke="#000" stroke-width="4.15"/>
<text transform="translate(274.70,140.32) scale(1.3,1)" font-family="Liberation Serif, serif" font-size="7.4" fill="#1c1c1c">Δ</text>
<text y="139.72" font-family="Liberation Sans, Arial, sans-serif" font-size="6.75" fill="#1c1c1c"><tspan x="284.20" font-family="Liberation Serif, serif" font-style="italic" font-size="7.4">λ</tspan><tspan x="289.80">= 19 nm</tspan></text>
<text x="166.2" y="258.4" font-family="Liberation Serif, serif" font-weight="bold" font-size="13.5" fill="#111" text-anchor="middle">(a)</text>
<line x1="80.74" y1="293.6" x2="80.74" y2="495.1" stroke="#e4e4e4" stroke-width="0.7"/>
<line x1="117.19" y1="293.6" x2="117.19" y2="495.1" stroke="#e4e4e4" stroke-width="0.7"/>
<line x1="153.63" y1="293.6" x2="153.63" y2="495.1" stroke="#e4e4e4" stroke-width="0.7"/>
<line x1="190.07" y1="293.6" x2="190.07" y2="495.1" stroke="#e4e4e4" stroke-width="0.7"/>
<line x1="226.51" y1="293.6" x2="226.51" y2="495.1" stroke="#e4e4e4" stroke-width="0.7"/>
<line x1="262.96" y1="293.6" x2="262.96" y2="495.1" stroke="#e4e4e4" stroke-width="0.7"/>
<line x1="44.0" y1="474.95" x2="299.4" y2="474.95" stroke="#e4e4e4" stroke-width="0.7"/>
<line x1="44.0" y1="454.80" x2="299.4" y2="454.80" stroke="#e4e4e4" stroke-width="0.7"/>
<line x1="44.0" y1="434.65" x2="299.4" y2="434.65" stroke="#e4e4e4" stroke-width="0.7"/>
<line x1="44.0" y1="414.50" x2="299.4" y2="414.50" stroke="#e4e4e4" stroke-width="0.7"/>
<line x1="44.0" y1="394.35" x2="299.4" y2="394.35" stroke="#e4e4e4" stroke-width="0.7"/>
<line x1="44.0" y1="374.20" x2="299.4" y2="374.20" stroke="#e4e4e4" stroke-width="0.7"/>
<line x1="44.0" y1="354.05" x2="299.4" y2="354.05" stroke="#e4e4e4" stroke-width="0.7"/>
<line x1="44.0" y1="333.90" x2="299.4" y2="333.90" stroke="#e4e4e4" stroke-width="0.7"/>
<line x1="44.0" y1="313.75" x2="299.4" y2="313.75" stroke="#e4e4e4" stroke-width="0.7"/>
<g fill="none" stroke="#000" stroke-linejoin="round">
<path d="M44.30,495.10 L68.61,486.03 L92.88,473.34 L117.19,454.80 L141.49,433.04 L165.76,406.84 L190.07,384.28 L214.38,348.41 L238.65,306.70" stroke-width="0.62"/>
<path d="M44.30,472.94 L68.61,471.96 L92.88,466.28 L117.19,451.72 L141.49,431.59 L165.76,406.20 L190.07,383.59 L214.38,348.11 L238.65,306.56" stroke-width="1.00"/>
<path d="M44.30,457.82 L68.61,457.12 L92.88,454.12 L117.19,444.42 L141.49,427.75 L165.76,404.41 L190.07,381.66 L214.38,347.26 L238.65,306.18" stroke-width="1.32"/>
<path d="M44.30,451.37 L68.61,450.68 L92.88,448.23 L117.19,440.21 L141.49,425.30 L165.76,403.22 L190.07,380.35 L214.38,346.68 L238.65,305.92" stroke-width="1.65"/>
<path d="M44.30,442.51 L68.61,441.78 L92.88,439.82 L117.19,433.67 L141.49,421.20 L165.76,401.14 L190.07,378.02 L214.38,345.63 L238.65,305.44" stroke-width="2.00"/>
<path d="M44.30,439.49 L68.61,438.74 L92.88,436.90 L117.19,431.29 L141.49,419.63 L165.76,400.32 L190.07,377.09 L214.38,345.21 L238.65,305.25" stroke-width="2.40"/>
<path d="M44.30,436.67 L68.61,435.90 L92.88,434.15 L117.19,429.00 L141.49,418.09 L165.76,399.50 L190.07,376.15 L214.38,344.78 L238.65,305.05" stroke-width="2.80"/>
<path d="M44.30,434.05 L68.61,433.26 L92.88,431.59 L117.19,426.84 L141.49,416.61 L165.76,398.69 L190.07,375.23 L214.38,344.36 L238.65,304.86" stroke-width="3.15"/>
<path d="M44.30,431.83 L68.61,431.02 L92.88,429.41 L117.19,424.98 L141.49,415.31 L165.76,397.98 L190.07,374.40 L214.38,343.98 L238.65,304.68" stroke-width="3.55"/>
<path d="M44.30,495.10 L68.61,490.06 L92.88,483.01 L117.19,472.94 L141.49,461.85 L165.76,447.55 L190.07,433.64 L214.38,410.47 L238.65,390.32" stroke-width="0.62" stroke-dasharray="5.7,3.7"/>
<path d="M44.30,473.54 L68.61,473.29 L92.88,471.93 L117.19,466.98 L141.49,458.63 L165.76,445.80 L190.07,432.33 L214.38,409.85 L238.65,390.08" stroke-width="1.00" stroke-dasharray="5.7,3.7"/>
<path d="M44.30,458.43 L68.61,458.16 L92.88,457.45 L117.19,455.12 L141.49,450.30 L165.76,440.53 L190.07,428.15 L214.38,407.78 L238.65,389.28" stroke-width="1.32" stroke-dasharray="5.7,3.7"/>
<path d="M44.30,452.18 L68.61,451.88 L92.88,451.25 L117.19,449.45 L141.49,445.72 L165.76,437.27 L190.07,425.39 L214.38,406.35 L238.65,388.72" stroke-width="1.65" stroke-dasharray="5.4,4.0"/>
<path d="M44.30,445.73 L68.61,445.40 L92.88,444.80 L117.19,443.38 L141.49,440.57 L165.76,433.35 L190.07,421.94 L214.38,404.50 L238.65,387.97" stroke-width="2.00" stroke-dasharray="7,7"/>
<path d="M44.30,441.50 L68.61,441.14 L92.88,440.54 L117.19,439.31 L141.49,437.01 L165.76,430.52 L190.07,419.36 L214.38,403.07 L238.65,387.39" stroke-width="2.40" stroke-dasharray="9.35,9.4"/>
<path d="M44.30,438.68 L68.61,438.30 L92.88,437.70 L117.19,436.57 L141.49,434.57 L165.76,428.54 L190.07,417.51 L214.38,402.02 L238.65,386.96" stroke-width="2.80" stroke-dasharray="9.35,9.4"/>
<path d="M44.30,436.67 L68.61,436.27 L92.88,435.67 L117.19,434.61 L141.49,432.81 L165.76,427.08 L190.07,416.13 L214.38,401.23 L238.65,386.64" stroke-width="3.15" stroke-dasharray="11.7,11.75"/>
<path d="M44.30,434.65 L68.61,434.25 L92.88,433.64 L117.19,432.64 L141.49,431.02 L165.76,425.58 L190.07,414.70 L214.38,400.40 L238.65,386.29" stroke-width="3.55" stroke-dasharray="14.1,14.05"/>
</g>
<rect x="44.0" y="293.6" width="255.40" height="201.50" fill="none" stroke="#333" stroke-width="0.7"/>
<text transform="translate(44.30,506.60) scale(0.88,1)" font-family="Liberation Sans, Arial, sans-serif" font-size="8.3" fill="#1c1c1c" text-anchor="middle">1</text>
<line x1="80.74" y1="495.1" x2="80.74" y2="492.5" stroke="#333" stroke-width="0.7"/>
<line x1="80.74" y1="293.6" x2="80.74" y2="296.20000000000005" stroke="#333" stroke-width="0.7"/>
<text transform="translate(80.74,506.60) scale(0.88,1)" font-family="Liberation Sans, Arial, sans-serif" font-size="8.3" fill="#1c1c1c" text-anchor="middle">2</text>
<line x1="117.19" y1="495.1" x2="117.19" y2="492.5" stroke="#333" stroke-width="0.7"/>
<line x1="117.19" y1="293.6" x2="117.19" y2="296.20000000000005" stroke="#333" stroke-width="0.7"/>
<text transform="translate(117.19,506.60) scale(0.88,1)" font-family="Liberation Sans, Arial, sans-serif" font-size="8.3" fill="#1c1c1c" text-anchor="middle">3</text>
<line x1="153.63" y1="495.1" x2="153.63" y2="492.5" stroke="#333" stroke-width="0.7"/>
<line x1="153.63" y1="293.6" x2="153.63" y2="296.20000000000005" stroke="#333" stroke-width="0.7"/>
<text transform="translate(153.63,506.60) scale(0.88,1)" font-family="Liberation Sans, Arial, sans-serif" font-size="8.3" fill="#1c1c1c" text-anchor="middle">4</text>
<line x1="190.07" y1="495.1" x2="190.07" y2="492.5" stroke="#333" stroke-width="0.7"/>
<line x1="190.07" y1="293.6" x2="190.07" y2="296.20000000000005" stroke="#333" stroke-width="0.7"/>
<text transform="translate(190.07,506.60) scale(0.88,1)" font-family="Liberation Sans, Arial, sans-serif" font-size="8.3" fill="#1c1c1c" text-anchor="middle">5</text>
<line x1="226.51" y1="495.1" x2="226.51" y2="492.5" stroke="#333" stroke-width="0.7"/>
<line x1="226.51" y1="293.6" x2="226.51" y2="296.20000000000005" stroke="#333" stroke-width="0.7"/>
<text transform="translate(226.51,506.60) scale(0.88,1)" font-family="Liberation Sans, Arial, sans-serif" font-size="8.3" fill="#1c1c1c" text-anchor="middle">6</text>
<line x1="262.96" y1="495.1" x2="262.96" y2="492.5" stroke="#333" stroke-width="0.7"/>
<line x1="262.96" y1="293.6" x2="262.96" y2="296.20000000000005" stroke="#333" stroke-width="0.7"/>
<text transform="translate(262.96,506.60) scale(0.88,1)" font-family="Liberation Sans, Arial, sans-serif" font-size="8.3" fill="#1c1c1c" text-anchor="middle">7</text>
<text transform="translate(299.40,506.60) scale(0.88,1)" font-family="Liberation Sans, Arial, sans-serif" font-size="8.3" fill="#1c1c1c" text-anchor="middle">8</text>
<text transform="translate(40.50,498.10) scale(0.89,1)" font-family="Liberation Sans, Arial, sans-serif" font-size="8.3" fill="#1c1c1c" text-anchor="end">0</text>
<line x1="44.0" y1="474.95" x2="46.6" y2="474.95" stroke="#333" stroke-width="0.7"/>
<line x1="299.4" y1="474.95" x2="296.79999999999995" y2="474.95" stroke="#333" stroke-width="0.7"/>
<text transform="translate(40.50,477.95) scale(0.89,1)" font-family="Liberation Sans, Arial, sans-serif" font-size="8.3" fill="#1c1c1c" text-anchor="end">0.01</text>
<line x1="44.0" y1="454.80" x2="46.6" y2="454.80" stroke="#333" stroke-width="0.7"/>
<line x1="299.4" y1="454.80" x2="296.79999999999995" y2="454.80" stroke="#333" stroke-width="0.7"/>
<text transform="translate(40.50,457.80) scale(0.89,1)" font-family="Liberation Sans, Arial, sans-serif" font-size="8.3" fill="#1c1c1c" text-anchor="end">0.02</text>
<line x1="44.0" y1="434.65" x2="46.6" y2="434.65" stroke="#333" stroke-width="0.7"/>
<line x1="299.4" y1="434.65" x2="296.79999999999995" y2="434.65" stroke="#333" stroke-width="0.7"/>
<text transform="translate(40.50,437.65) scale(0.89,1)" font-family="Liberation Sans, Arial, sans-serif" font-size="8.3" fill="#1c1c1c" text-anchor="end">0.03</text>
<line x1="44.0" y1="414.50" x2="46.6" y2="414.50" stroke="#333" stroke-width="0.7"/>
<line x1="299.4" y1="414.50" x2="296.79999999999995" y2="414.50" stroke="#333" stroke-width="0.7"/>
<text transform="translate(40.50,417.50) scale(0.89,1)" font-family="Liberation Sans, Arial, sans-serif" font-size="8.3" fill="#1c1c1c" text-anchor="end">0.04</text>
<line x1="44.0" y1="394.35" x2="46.6" y2="394.35" stroke="#333" stroke-width="0.7"/>
<line x1="299.4" y1="394.35" x2="296.79999999999995" y2="394.35" stroke="#333" stroke-width="0.7"/>
<text transform="translate(40.50,397.35) scale(0.89,1)" font-family="Liberation Sans, Arial, sans-serif" font-size="8.3" fill="#1c1c1c" text-anchor="end">0.05</text>
<line x1="44.0" y1="374.20" x2="46.6" y2="374.20" stroke="#333" stroke-width="0.7"/>
<line x1="299.4" y1="374.20" x2="296.79999999999995" y2="374.20" stroke="#333" stroke-width="0.7"/>
<text transform="translate(40.50,377.20) scale(0.89,1)" font-family="Liberation Sans, Arial, sans-serif" font-size="8.3" fill="#1c1c1c" text-anchor="end">0.06</text>
<line x1="44.0" y1="354.05" x2="46.6" y2="354.05" stroke="#333" stroke-width="0.7"/>
<line x1="299.4" y1="354.05" x2="296.79999999999995" y2="354.05" stroke="#333" stroke-width="0.7"/>
<text transform="translate(40.50,357.05) scale(0.89,1)" font-family="Liberation Sans, Arial, sans-serif" font-size="8.3" fill="#1c1c1c" text-anchor="end">0.07</text>
<line x1="44.0" y1="333.90" x2="46.6" y2="333.90" stroke="#333" stroke-width="0.7"/>
<line x1="299.4" y1="333.90" x2="296.79999999999995" y2="333.90" stroke="#333" stroke-width="0.7"/>
<text transform="translate(40.50,336.90) scale(0.89,1)" font-family="Liberation Sans, Arial, sans-serif" font-size="8.3" fill="#1c1c1c" text-anchor="end">0.08</text>
<line x1="44.0" y1="313.75" x2="46.6" y2="313.75" stroke="#333" stroke-width="0.7"/>
<line x1="299.4" y1="313.75" x2="296.79999999999995" y2="313.75" stroke="#333" stroke-width="0.7"/>
<text transform="translate(40.50,316.75) scale(0.89,1)" font-family="Liberation Sans, Arial, sans-serif" font-size="8.3" fill="#1c1c1c" text-anchor="end">0.09</text>
<text transform="translate(40.50,296.60) scale(0.89,1)" font-family="Liberation Sans, Arial, sans-serif" font-size="8.3" fill="#1c1c1c" text-anchor="end">0.1</text>
<text transform="translate(145.2,518.80) scale(1.28,1)" font-family="Liberation Serif, serif" font-size="8.8" fill="#1c1c1c">Δ</text>
<text y="518.80" font-family="Liberation Sans, Arial, sans-serif" font-size="8.9" fill="#1c1c1c"><tspan x="155.6" font-family="Liberation Serif, serif" font-style="italic" font-size="9">θ</tspan><tspan x="163.3">/degrees</tspan></text>
<text transform="translate(17.0,408.25) rotate(-90)" font-family="Liberation Sans, Arial, sans-serif" font-size="8.4" fill="#1c1c1c">P<tspan dy="4.4" dx="0.4" font-size="6.8" letter-spacing="0.1">95</tspan><tspan dy="-4.4" dx="-0.4">(</tspan><tspan dx="0.9" font-family="Liberation Serif, serif" font-style="italic" font-size="8.5">ϵ</tspan><tspan dy="3.4" dx="2.6" font-size="5.6">r</tspan><tspan dy="-3.4" dx="1.0">)</tspan></text>
<rect x="244" y="337.2" width="74.4" height="90" fill="#fff" stroke="#333" stroke-width="0.7"/>
<line x1="249.30" y1="344.20" x2="272.50" y2="344.20" stroke="#000" stroke-width="0.73"/>
<text transform="translate(275.50,347.50) scale(1.3,1)" font-family="Liberation Serif, serif" font-size="7.4" fill="#1c1c1c">Δ</text>
<text y="346.90" font-family="Liberation Sans, Arial, sans-serif" font-size="6.75" fill="#1c1c1c"><tspan x="285.00" font-family="Liberation Serif, serif" font-style="italic" font-size="7.4">λ</tspan><tspan x="290.60">= 3 nm</tspan></text>
<line x1="249.30" y1="353.94" x2="272.50" y2="353.94" stroke="#000" stroke-width="1.17"/>
<text transform="translate(275.50,357.24) scale(1.3,1)" font-family="Liberation Serif, serif" font-size="7.4" fill="#1c1c1c">Δ</text>
<text y="356.64" font-family="Liberation Sans, Arial, sans-serif" font-size="6.75" fill="#1c1c1c"><tspan x="285.00" font-family="Liberation Serif, serif" font-style="italic" font-size="7.4">λ</tspan><tspan x="290.60">= 5 nm</tspan></text>
<line x1="249.30" y1="363.68" x2="272.50" y2="363.68" stroke="#000" stroke-width="1.54"/>
<text transform="translate(275.50,366.98) scale(1.3,1)" font-family="Liberation Serif, serif" font-size="7.4" fill="#1c1c1c">Δ</text>
<text y="366.38" font-family="Liberation Sans, Arial, sans-serif" font-size="6.75" fill="#1c1c1c"><tspan x="285.00" font-family="Liberation Serif, serif" font-style="italic" font-size="7.4">λ</tspan><tspan x="290.60">= 7 nm</tspan></text>
<line x1="249.30" y1="373.42" x2="272.50" y2="373.42" stroke="#000" stroke-width="1.93"/>
<text transform="translate(275.50,376.72) scale(1.3,1)" font-family="Liberation Serif, serif" font-size="7.4" fill="#1c1c1c">Δ</text>
<text y="376.12" font-family="Liberation Sans, Arial, sans-serif" font-size="6.75" fill="#1c1c1c"><tspan x="285.00" font-family="Liberation Serif, serif" font-style="italic" font-size="7.4">λ</tspan><tspan x="290.60">= 9 nm</tspan></text>
<line x1="249.30" y1="383.16" x2="272.50" y2="383.16" stroke="#000" stroke-width="2.34"/>
<text transform="translate(275.50,386.46) scale(1.3,1)" font-family="Liberation Serif, serif" font-size="7.4" fill="#1c1c1c">Δ</text>
<text y="385.86" font-family="Liberation Sans, Arial, sans-serif" font-size="6.75" fill="#1c1c1c"><tspan x="285.00" font-family="Liberation Serif, serif" font-style="italic" font-size="7.4">λ</tspan><tspan x="290.60">= 11 nm</tspan></text>
<line x1="249.30" y1="392.90" x2="272.50" y2="392.90" stroke="#000" stroke-width="2.81"/>
<text transform="translate(275.50,396.20) scale(1.3,1)" font-family="Liberation Serif, serif" font-size="7.4" fill="#1c1c1c">Δ</text>
<text y="395.60" font-family="Liberation Sans, Arial, sans-serif" font-size="6.75" fill="#1c1c1c"><tspan x="285.00" font-family="Liberation Serif, serif" font-style="italic" font-size="7.4">λ</tspan><tspan x="290.60">= 13 nm</tspan></text>
<line x1="249.30" y1="402.64" x2="272.50" y2="402.64" stroke="#000" stroke-width="3.28"/>
<text transform="translate(275.50,405.94) scale(1.3,1)" font-family="Liberation Serif, serif" font-size="7.4" fill="#1c1c1c">Δ</text>
<text y="405.34" font-family="Liberation Sans, Arial, sans-serif" font-size="6.75" fill="#1c1c1c"><tspan x="285.00" font-family="Liberation Serif, serif" font-style="italic" font-size="7.4">λ</tspan><tspan x="290.60">= 15 nm</tspan></text>
<line x1="249.30" y1="412.38" x2="272.50" y2="412.38" stroke="#000" stroke-width="3.69"/>
<text transform="translate(275.50,415.68) scale(1.3,1)" font-family="Liberation Serif, serif" font-size="7.4" fill="#1c1c1c">Δ</text>
<text y="415.08" font-family="Liberation Sans, Arial, sans-serif" font-size="6.75" fill="#1c1c1c"><tspan x="285.00" font-family="Liberation Serif, serif" font-style="italic" font-size="7.4">λ</tspan><tspan x="290.60">= 17 nm</tspan></text>
<line x1="249.30" y1="422.12" x2="272.50" y2="422.12" stroke="#000" stroke-width="4.15"/>
<text transform="translate(275.50,425.42) scale(1.3,1)" font-family="Liberation Serif, serif" font-size="7.4" fill="#1c1c1c">Δ</text>
<text y="424.82" font-family="Liberation Sans, Arial, sans-serif" font-size="6.75" fill="#1c1c1c"><tspan x="285.00" font-family="Liberation Serif, serif" font-style="italic" font-size="7.4">λ</tspan><tspan x="290.60">= 19 nm</tspan></text>
<text x="166.2" y="538.4" font-family="Liberation Serif, serif" font-weight="bold" font-size="13.5" fill="#111" text-anchor="middle">(b)</text>
</g>
</svg>
</body></html>
